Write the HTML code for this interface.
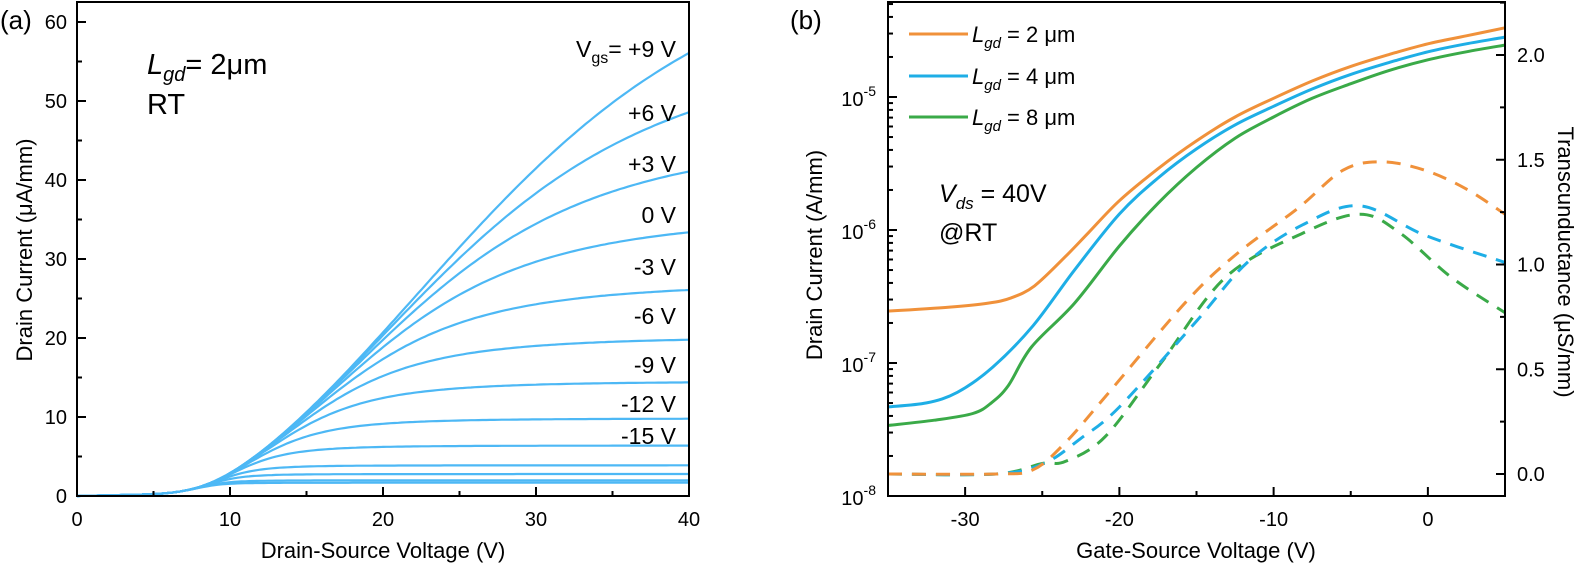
<!DOCTYPE html>
<html><head><meta charset="utf-8"><style>
body{margin:0;background:#fff}
svg{display:block;font-family:"Liberation Sans",sans-serif}
</style></head><body>
<svg id="s" width="1579" height="569" viewBox="0 0 1579 569" xmlns="http://www.w3.org/2000/svg">
<rect width="1579" height="569" fill="#fff"/>
<g id="ca" fill="none" stroke="#4DB8F5" stroke-width="2.2"></g>
<g id="cb" fill="none" stroke-width="3"></g>
<g id="ax" stroke="#000" stroke-width="2" fill="none"></g>
<g font-size="20" fill="#000">
<text x="0" y="29" font-size="26">(a)</text>
<text x="790" y="29" font-size="26">(b)</text>
<text x="147" y="74" font-size="29"><tspan font-style="italic">L</tspan><tspan font-style="italic" font-size="20" dy="7">gd</tspan><tspan dy="-7">= 2μm</tspan></text>
<text x="147" y="114" font-size="29">RT</text>
<g font-size="23" text-anchor="end">
<text x="676" y="57">V<tspan font-size="16" dy="6">gs</tspan><tspan dy="-6">= +9 V</tspan></text>
<text x="676" y="121">+6 V</text>
<text x="676" y="172">+3 V</text>
<text x="676" y="223">0 V</text>
<text x="676" y="275">-3 V</text>
<text x="676" y="324">-6 V</text>
<text x="676" y="373">-9 V</text>
<text x="676" y="412">-12 V</text>
<text x="676" y="444">-15 V</text>
</g>
<text transform="translate(32,250) rotate(-90)" text-anchor="middle" font-size="22">Drain Current (μA/mm)</text>
<text x="383" y="558" text-anchor="middle" font-size="22">Drain-Source Voltage (V)</text>
<text x="1196" y="558" text-anchor="middle" font-size="22">Gate-Source Voltage (V)</text>
<text transform="translate(822,255) rotate(-90)" text-anchor="middle" font-size="22">Drain Current (A/mm)</text>
<text transform="translate(1558,262) rotate(90)" text-anchor="middle" font-size="22">Transcunductance (μS/mm)</text>
<text x="939" y="202" font-size="25"><tspan font-style="italic">V</tspan><tspan font-style="italic" font-size="17" dy="7">ds</tspan><tspan dy="-7"> = 40V</tspan></text>
<text x="939" y="241" font-size="25">@RT</text>
<g font-size="22">
<text x="972" y="42"><tspan font-style="italic">L</tspan><tspan font-style="italic" font-size="15" dy="6">gd</tspan><tspan dy="-6"> = 2 μm</tspan></text>
<text x="972" y="84"><tspan font-style="italic">L</tspan><tspan font-style="italic" font-size="15" dy="6">gd</tspan><tspan dy="-6"> = 4 μm</tspan></text>
<text x="972" y="125"><tspan font-style="italic">L</tspan><tspan font-style="italic" font-size="15" dy="6">gd</tspan><tspan dy="-6"> = 8 μm</tspan></text>
</g>
<g id="tl"></g>
</g>
<line x1="909" y1="34" x2="968" y2="34" stroke="#F0913A" stroke-width="3"/>
<line x1="909" y1="76" x2="968" y2="76" stroke="#1EAEE6" stroke-width="3"/>
<line x1="909" y1="117" x2="968" y2="117" stroke="#3AAA48" stroke-width="3"/>
</svg>
<script>
var NS="http://www.w3.org/2000/svg";
function el(p,t,a,txt){var e=document.createElementNS(NS,t);for(var k in a)e.setAttribute(k,a[k]);if(txt!=null)e.textContent=txt;p.appendChild(e);return e;}
var ax=document.getElementById('ax'),tl=document.getElementById('tl');
var aL=77,aR=689,aT=2,aB=496;
function ax_(v){return aL+(v)/40*(aR-aL);} function ay_(i){return aB-i*7.9;}
el(ax,'rect',{x:aL,y:aT,width:aR-aL,height:aB-aT});
for(var v=0;v<=40;v+=5){var x=ax_(v);el(ax,'line',{x1:x,y1:aB,x2:x,y2:aB-(v%10?5:9)});if(v%10==0)el(tl,'text',{x:x,y:aB+30,'text-anchor':'middle'},v);}
for(var i=0;i<=60;i+=5){var y=ay_(i);el(ax,'line',{x1:aL,y1:y,x2:aL+(i%10?5:9),y2:y});if(i%10==0)el(tl,'text',{x:aL-10,y:y+7,'text-anchor':'end'},i);}
var fin=[55.8,48.3,40.8,33.1,25.8,19.5,14.1,9.5,6.1,3.6,2.5,1.7,1.4];
var ca=document.getElementById('ca');
function E(V){var u=1.2*Math.log(1+Math.exp((V-7)/1.2));return 0.51*Math.pow(u,1.45);}
var n=2.2;
function sat(e,S){var x=e/S;return S*x/Math.pow(1+Math.pow(x,n),1/n);}
fin.forEach(function(f){
 var S=f;for(var it=0;it<80;it++){var g=sat(E(40),S);S+=(f-g)*1.5;}
 var d='';for(var V=0;V<=40.01;V+=0.25){var I=sat(E(V),S)+(V<7?0.04*V:0.28);
 d+=(d?'L':'M')+ax_(V).toFixed(1)+','+ay_(I).toFixed(1);}
 el(ca,'path',{d:d});
});
var bL=888,bR=1505,bT=2,bB=496;
function bx(v){return bL+(v+35)/40*(bR-bL);}
function by(l){return bB-(l+8)*133;}
function gy(g){return 474-g*209.5;}
el(ax,'rect',{x:bL,y:bT,width:bR-bL,height:bB-bT});
for(var v=-35;v<=5;v+=5){var x=bx(v);el(ax,'line',{x1:x,y1:bB,x2:x,y2:bB-(v%10?5:9)});if(v%10==0)el(tl,'text',{x:x,y:bB+30,'text-anchor':'middle'},v);}
for(var dcd=-8;dcd<=-5;dcd++){for(var m=1;m<10;m++){var y=by(dcd+Math.log10(m));if(y<bT)break;el(ax,'line',{x1:bL,y1:y,x2:bL+(m==1?9:5),y2:y});}
 var t=el(tl,'text',{x:bL-12,y:by(dcd)+9,'text-anchor':'end'},'10');el(t,'tspan',{'font-size':'14',dy:'-10'},dcd);}
for(var g=0;g<=2.26;g+=0.25){var y=gy(g);var mj=Math.abs(g*2-Math.round(g*2))<1e-6;el(ax,'line',{x1:bR,y1:y,x2:bR-(mj?9:5),y2:y});if(mj)el(tl,'text',{x:bR+12,y:y+7},g.toFixed(1));}
function cr(pts){var d='M'+pts[0][0].toFixed(1)+','+pts[0][1].toFixed(1);for(var i=0;i<pts.length-1;i++){var p0=pts[i-1]||pts[i],p1=pts[i],p2=pts[i+1],p3=pts[i+2]||p2;
 d+='C'+(p1[0]+(p2[0]-p0[0])/6).toFixed(1)+','+(p1[1]+(p2[1]-p0[1])/6).toFixed(1)+' '+(p2[0]-(p3[0]-p1[0])/6).toFixed(1)+','+(p2[1]-(p3[1]-p1[1])/6).toFixed(1)+' '+p2[0].toFixed(1)+','+p2[1].toFixed(1);}return d;}
var cb=document.getElementById('cb');
var col={o:'#F0913A',b:'#1EAEE6',g:'#3AAA48'};
var sol={o:[[-35,-6.61],[-31,-6.58],[-28.5,-6.55],[-27,-6.51],[-25.5,-6.42],[-23.5,-6.20],[-22,-6.02],[-20,-5.78],[-17.5,-5.54],[-15,-5.33],[-12.5,-5.15],[-10,-5.01],[-7.5,-4.88],[-5,-4.77],[-2.5,-4.68],[0,-4.60],[2.5,-4.54],[5,-4.48]],
 b:[[-35,-7.33],[-32.5,-7.30],[-30.5,-7.22],[-28.2,-7.03],[-25.6,-6.72],[-22.9,-6.30],[-20,-5.88],[-17.5,-5.61],[-15,-5.39],[-12.5,-5.21],[-10,-5.07],[-7.5,-4.94],[-5,-4.83],[-2.5,-4.74],[0,-4.66],[2.5,-4.60],[5,-4.55]],
 g:[[-35,-7.47],[-32,-7.43],[-29.5,-7.38],[-28.3,-7.30],[-27.2,-7.17],[-25.7,-6.88],[-22.9,-6.55],[-20,-6.12],[-17.5,-5.80],[-15,-5.53],[-12.5,-5.31],[-10,-5.15],[-7.5,-5.01],[-5,-4.90],[-2.5,-4.80],[0,-4.72],[2.5,-4.66],[5,-4.61]]};
var dsh={o:[[-35,0],[-28,0],[-25.6,0.02],[-23.5,0.15],[-20.9,0.37],[-15.7,0.82],[-12.4,1.05],[-8.4,1.27],[-5.5,1.45],[-3,1.49],[-0.2,1.45],[2.5,1.36],[5,1.24]],
 b:[[-35,0],[-28,0],[-24.9,0.05],[-22.5,0.17],[-20,0.32],[-15,0.73],[-11.7,1.01],[-8.1,1.19],[-4.4,1.28],[-0.2,1.14],[5,1.01]],
 g:[[-35,0],[-28,0],[-25,0.05],[-23.5,0.06],[-20.9,0.18],[-17.3,0.53],[-13.1,0.94],[-8.1,1.15],[-4.4,1.24],[-1.8,1.15],[1.5,0.94],[5,0.77]]};
['g','b','o'].forEach(function(k){
 el(cb,'path',{d:cr(dsh[k].map(function(p){return [bx(p[0]),gy(p[1])];})),stroke:col[k],'stroke-dasharray':'14 10'});
});
['g','b','o'].forEach(function(k){
 el(cb,'path',{d:cr(sol[k].map(function(p){return [bx(p[0]),by(p[1])];})),stroke:col[k]});
});
</script>
</body></html>
